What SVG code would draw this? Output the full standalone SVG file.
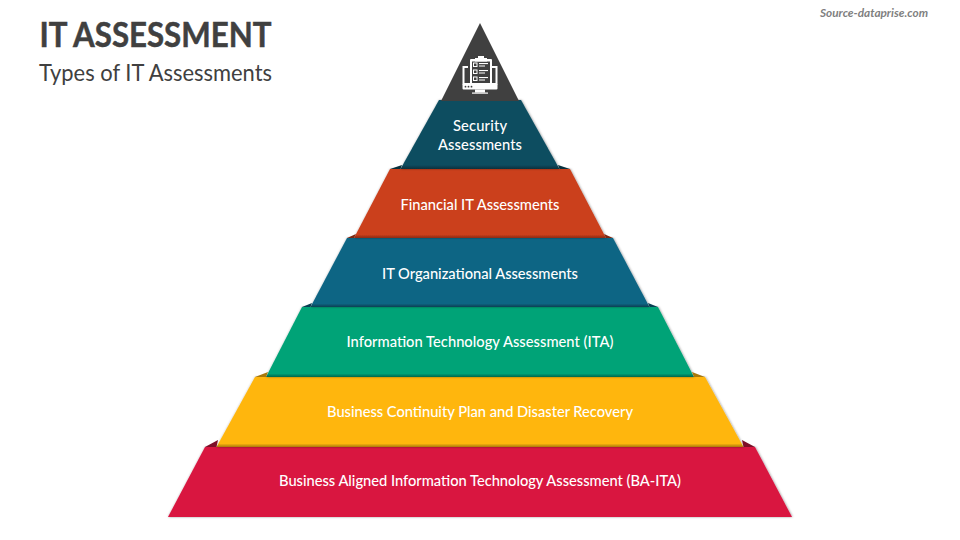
<svg xmlns="http://www.w3.org/2000/svg" width="960" height="540" viewBox="0 0 960 540">
<defs>
<style>
.t{font-family:"Lato","Liberation Sans",sans-serif;font-size:14.7px;font-weight:500;fill:#fff;text-anchor:middle}
.i{fill:#fff}
.o{fill:none;stroke:#fff;stroke-width:1}
</style>
<filter id="s" x="-5%" y="-5%" width="110%" height="110%"><feDropShadow dx="0.5" dy="0" stdDeviation="1" flood-color="#000" flood-opacity="0.4"/></filter>
<linearGradient id="g1" x1="0" y1="0" x2="0" y2="1"><stop offset="0.94" stop-color="#0b4d61"/><stop offset="1" stop-color="#07303d"/></linearGradient>
<linearGradient id="g2" x1="0" y1="0" x2="0" y2="1"><stop offset="0.95" stop-color="#cb3f1c"/><stop offset="1" stop-color="#8a2a12"/></linearGradient>
<linearGradient id="g3" x1="0" y1="0" x2="0" y2="1"><stop offset="0.95" stop-color="#0e6584"/><stop offset="1" stop-color="#083f53"/></linearGradient>
<linearGradient id="g4" x1="0" y1="0" x2="0" y2="1"><stop offset="0.95" stop-color="#06a377"/><stop offset="1" stop-color="#04664b"/></linearGradient>
<linearGradient id="g5" x1="0" y1="0" x2="0" y2="1"><stop offset="0.95" stop-color="#ffb60d"/><stop offset="1" stop-color="#a8780a"/></linearGradient>
</defs>
<rect width="960" height="540" fill="#fff"/>
<text x="39.500" y="46.500" font-family="Lato,'Liberation Sans',sans-serif" font-size="33.500" font-weight="700" fill="#404040" stroke="#404040" stroke-width="0.500" textLength="232" lengthAdjust="spacingAndGlyphs">IT ASSESSMENT</text>
<text x="39" y="81" font-family="Lato,'Liberation Sans',sans-serif" font-size="22.500" fill="#404040" textLength="233" lengthAdjust="spacingAndGlyphs">Types of IT Assessments</text>
<text x="820" y="17" font-family="Lato,'Liberation Sans',sans-serif" font-size="11" font-weight="700" font-style="italic" fill="#7f7f7f" textLength="108" lengthAdjust="spacingAndGlyphs">Source-dataprise.com</text>
<g id="connectors"></g>
<g id="tier-ba-ita"><polygon points="205,447 755,447 792,517 168,517" fill="#d91641" filter="url(#s)"/><text class="t" x="480" y="486" textLength="402">Business Aligned Information Technology Assessment (BA-ITA)</text></g>
<g id="tier-bcp"><polygon points="255,377 705,377 743.500,447 216.500,447" fill="url(#g5)" filter="url(#s)"/><text class="t" x="480" y="417" textLength="306">Business Continuity Plan and Disaster Recovery</text></g>
<g id="tier-ita"><polygon points="302,307 658,307 694,377 266,377" fill="url(#g4)" filter="url(#s)"/><text class="t" x="480" y="347" textLength="267">Information Technology Assessment (ITA)</text></g>
<g id="tier-org"><polygon points="347,238 613,238 649.500,307 310.500,307" fill="url(#g3)" filter="url(#s)"/><text class="t" x="480" y="279" textLength="196">IT Organizational Assessments</text></g>
<g id="tier-fin"><polygon points="390,169 570,169 606,238 354,238" fill="url(#g2)" filter="url(#s)"/><text class="t" x="480" y="210" textLength="159">Financial IT Assessments</text></g>
<g id="tier-sec"><polygon points="439,100 521,100 559.500,169 400.500,169" fill="url(#g1)" filter="url(#s)"/><text class="t" x="480" y="131" textLength="54">Security</text><text class="t" x="480" y="150" textLength="84">Assessments</text></g>
<g id="folds">
<polygon points="402,165 390,169 400.500,169" fill="#07303d"/><polygon points="558,165 570,169 559.500,169" fill="#07303d"/>
<polygon points="356,234 347,238 354,238" fill="#7d2711"/><polygon points="604,234 613,238 606,238" fill="#7d2711"/>
<polygon points="312,303 302,307 310.500,307" fill="#083f53"/><polygon points="648,303 658,307 649.500,307" fill="#083f53"/>
<polygon points="268,372 255,377 266,377" fill="#a8780a"/><polygon points="692,372 705,377 694,377" fill="#a8780a"/>
<polygon points="218,440 205,447 216.500,447" fill="#7d0f28"/><polygon points="742,440 755,447 743.500,447" fill="#7d0f28"/>
</g>
<g id="tier-top"><polygon points="480,23 519,101 441,101" fill="#404040"/>
<g id="icon">
<rect class="i" x="470" y="59" width="22" height="26" rx="1"/>
<rect x="472" y="61.500" width="18" height="22" fill="#404040"/>
<rect class="i" x="475" y="58" width="12" height="3.500"/><rect class="i" x="478" y="56" width="6" height="3"/>
<rect class="o" x="473.500" y="63" width="3.500" height="3.500"/><rect class="o" x="473.500" y="70" width="3.500" height="3.500"/><rect class="o" x="473.500" y="77" width="3.500" height="3.500"/>
<rect class="i" x="479" y="63" width="9" height="1.100"/><rect class="i" x="479" y="65.500" width="6" height="1"/>
<rect class="i" x="479" y="70" width="9" height="1.100"/><rect class="i" x="479" y="72.500" width="6" height="1"/>
<rect class="i" x="479" y="77" width="9" height="1.100"/><rect class="i" x="479" y="79.500" width="6" height="1"/>
<path d="M468 67h-4.500v17h33V67H492" fill="none" stroke="#fff" stroke-width="2"/>
<rect class="i" x="462.500" y="84" width="35" height="5.500" rx="1"/>
<rect class="i" x="475" y="89.500" width="10" height="3"/><rect class="i" x="472" y="92.500" width="16" height="1.200"/>
<circle cx="465.500" cy="86.700" r="0.900" fill="#404040"/><circle cx="468.500" cy="86.700" r="0.900" fill="#404040"/><circle cx="471.500" cy="86.700" r="0.900" fill="#404040"/>
</g></g>
</svg>
